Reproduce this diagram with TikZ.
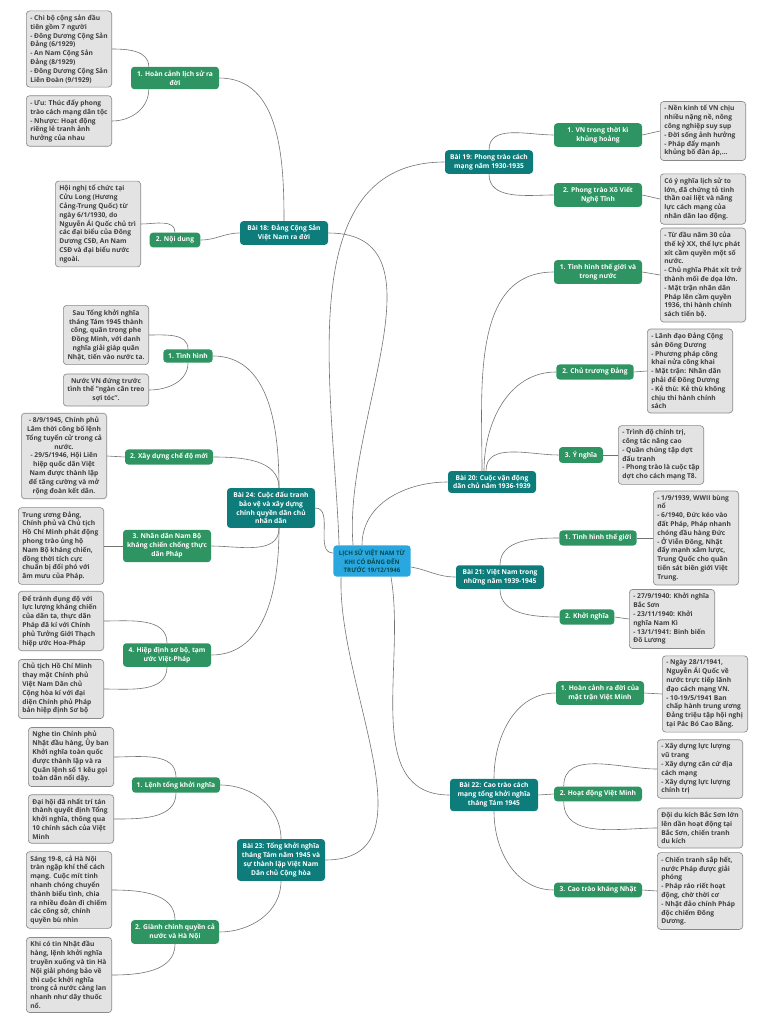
\documentclass[tikz,border=0pt]{standalone}
\usepackage{fontspec}
\setmainfont{Open Sans}
\definecolor{teal1}{HTML}{0E7C7B}
\definecolor{green1}{HTML}{2E9461}
\definecolor{leafc}{HTML}{E3E3E3}
\definecolor{leafb}{HTML}{8A8A8A}
\definecolor{cent}{HTML}{2AA7DE}
\begin{document}
\begin{tikzpicture}[x=0.75pt,y=-0.75pt,
  every node/.style={font=\fontsize{5}{6.6}\selectfont\bfseries, inner sep=3pt, rounded corners=2.5pt},
  mainb/.style={fill=teal1, text=white, align=flush center, text width=#1},
  mainb/.default=60pt,
  subb/.style={fill=green1, text=white, align=flush center, text width=#1},
  subb/.default=60pt,
  leaf/.style={fill=leafc, draw=leafb, line width=0.5pt, text=black!75, align=flush left, text width=58pt},
  leafc/.style={leaf, align=flush center},
  centre/.style={fill=cent, text=teal1!60!black, align=flush center, text width=54pt, inner xsep=2pt, font=\fontsize{4.6}{6.4}\selectfont\bfseries},
  ln/.style={draw=black!55, line width=0.45pt}]
\useasboundingbox (0,0) rectangle (768,1024);
\node[centre] (c) at (372,561) {LỊCH SỬ VIỆT NAM TỪ\\KHI CÓ ĐẢNG ĐẾN\\TRƯỚC 19/12/1946};
% Bai 18
\node[mainb] (b18) at (284,233) {Bài 18: Đảng Cộng Sản Việt Nam ra đời};
\node[subb] (b18a) at (175,78) {1. Hoàn cảnh lịch sử ra đời};
\node[leaf] (b18a1) at (69,49) {- Chi bộ cộng sản đầu tiên gồm 7 người\\- Đông Dương Cộng Sản Đảng (6/1929)\\- An Nam Cộng Sản Đảng (8/1929)\\- Đông Dương Cộng Sản Liên Đoàn (9/1929)};
\node[leaf] (b18a2) at (69,121) {- Ưu: Thúc đẩy phong trào cách mạng dân tộc\\- Nhược: Hoạt động riêng lẻ tranh ảnh hưởng của nhau};
\node[subb=32pt] (b18b) at (175,240) {2. Nội dung};
\node[leaf] (b18b1) at (98,224) {Hội nghị tổ chức tại Cửu Long (Hương Cảng-Trung Quốc) từ ngày 6/1/1930, do Nguyễn Ái Quốc chủ trì các đại biểu của Đông Dương CSĐ, An Nam CSĐ và đại biểu nước ngoài.};
% Bai 19
\node[mainb] (b19) at (489,162) {Bài 19: Phong trào cách mạng năm 1930-1935};
\node[subb] (b19a) at (598,135) {1. VN trong thời kì khủng hoảng};
\node[leaf] (b19a1) at (703,131) {- Nền kinh tế VN chịu nhiều nặng nề, nông công nghiệp suy sụp\\- Đời sống ảnh hưởng\\- Pháp đẩy mạnh khủng bố đàn áp,\dots};
\node[subb] (b19b) at (598,195) {2. Phong trào Xô Viết Nghệ Tĩnh};
\node[leaf] (b19b1) at (703,199) {Có ý nghĩa lịch sử to lớn, đã chứng tỏ tinh thần oai liệt và năng lực cách mạng của nhân dân lao động.};
% Bai 20
\node[mainb] (b20) at (492,482) {Bài 20: Cuộc vận động dân chủ năm 1936-1939};
\node[subb] (b20a) at (598,272) {1. Tình hình thế giới và trong nước};
\node[leaf] (b20a1) at (703,275) {- Từ đầu năm 30 của thế kỷ XX, thế lực phát xít cầm quyền một số nước.\\- Chủ nghĩa Phát xít trở thành mối đe dọa lớn.\\- Mặt trận nhân dân Pháp lên cầm quyền 1936, thi hành chính sách tiến bộ.};
\node[subb=52pt] (b20b) at (595,372) {2. Chủ trương Đảng};
\node[leaf] (b20b1) at (690,371) {- Lãnh đạo Đảng Cộng sản Đông Dương\\- Phương pháp công khai nửa công khai\\- Mặt trận: Nhân dân phải để Đông Dương\\- Kẻ thù: Kẻ thù không chịu thi hành chính sách};
\node[subb=27pt] (b20c) at (581,455) {3. Ý nghĩa};
\node[leaf] (b20c1) at (661,455) {- Trình độ chính trị, công tác nâng cao\\- Quần chúng tập dợt đấu tranh\\- Phong trào là cuộc tập dợt cho cách mạng T8.};
% Bai 21
\node[mainb] (b21) at (500,577) {Bài 21: Việt Nam trong những năm 1939-1945};
\node[subb=52pt] (b21a) at (598,538) {1. Tình hình thế giới};
\node[leaf] (b21a1) at (696,538) {- 1/9/1939, WWII bùng nổ\\- 6/1940, Đức kéo vào đất Pháp, Pháp nhanh chóng đầu hàng Đức\\- Ở Viễn Đông, Nhật đẩy mạnh xâm lược, Trung Quốc cho quân tiến sát biên giới Việt Trung.};
\node[subb=35pt] (b21b) at (587,617) {2. Khởi nghĩa};
\node[leaf] (b21b1) at (672,619) {- 27/9/1940: Khởi nghĩa Bắc Sơn\\- 23/11/1940: Khởi nghĩa Nam Kì\\- 13/1/1941: Binh biến Đô Lương};
% Bai 22
\node[mainb] (b22) at (494,795) {Bài 22: Cao trào cách mạng tổng khởi nghĩa tháng Tám 1945};
\node[subb] (b22a) at (600,693) {1. Hoàn cảnh ra đời của mặt trận Việt Minh};
\node[leaf] (b22a1) at (705,694) {- Ngày 28/1/1941, Nguyễn Ái Quốc về nước trực tiếp lãnh đạo cách mạng VN.\\- 10-19/5/1941 Ban chấp hành trung ương Đảng triệu tập hội nghị tại Pác Bó Cao Bằng.};
\node[subb] (b22b) at (598,794) {2. Hoạt động Việt Minh};
\node[leaf] (b22b1) at (700,769) {- Xây dựng lực lượng vũ trang\\- Xây dựng căn cứ địa cách mạng\\- Xây dựng lực lượng chính trị};
\node[leaf] (b22b2) at (700,828) {Đội du kích Bắc Sơn lớn lên dần hoạt động tại Bắc Sơn, chiến tranh du kích};
\node[subb] (b22c) at (598,890) {3. Cao trào kháng Nhật};
\node[leaf] (b22c1) at (700,891) {- Chiến tranh sắp hết, nước Pháp được giải phóng\\- Pháp ráo riết hoạt động, chờ thời cơ\\- Nhật đảo chính Pháp độc chiếm Đông Dương.};
% Bai 24
\node[mainb] (b24) at (271,508) {Bài 24: Cuộc đấu tranh bảo vệ và xây dựng chính quyền dân chủ nhân dân};
\node[subb=31pt] (b24a) at (188,356) {1. Tình hình};
\node[leafc] (b24a1) at (106,335) {Sau Tổng khởi nghĩa tháng Tám 1945 thành công, quân trong phe Đồng Minh, với danh nghĩa giải giáp quân Nhật, tiến vào nước ta.};
\node[leafc] (b24a2) at (106,390) {Nước VN đứng trước tình thế "ngàn cân treo sợi tóc".};
\node[subb] (b24b) at (169,457) {2. Xây dựng chế độ mới};
\node[leafc] (b24b1) at (64,456) {- 8/9/1945, Chính phủ Lâm thời công bố lệnh Tổng tuyển cử trong cả nước.\\- 29/5/1946, Hội Liên hiệp quốc dân Việt Nam được thành lập để tăng cường và mở rộng đoàn kết dân.};
\node[subb] (b24c) at (167,546) {3. Nhân dân Nam Bộ kháng chiến chống thực dân Pháp};
\node[leaf] (b24c1) at (61,546) {Trung ương Đảng, Chính phủ và Chủ tịch Hồ Chí Minh phát động phong trào ủng hộ Nam Bộ kháng chiến, đồng thời tích cực chuẩn bị đối phó với âm mưu của Pháp.};
\node[subb] (b24d) at (167,655) {4. Hiệp định sơ bộ, tạm ước Việt-Pháp};
\node[leaf] (b24d1) at (61,621) {Để tránh đụng độ với lực lượng kháng chiến của dân ta, thực dân Pháp đã kí với Chính phủ Tưởng Giới Thạch hiệp ước Hoa-Pháp};
\node[leaf] (b24d2) at (61,689) {Chủ tịch Hồ Chí Minh thay mặt Chính phủ Việt Nam Dân chủ Cộng hòa kí với đại diện Chính phủ Pháp bản hiệp định Sơ bộ};
% Bai 23
\node[mainb] (b23) at (281,860) {Bài 23: Tổng khởi nghĩa tháng Tám năm 1945 và sự thành lập Việt Nam Dân chủ Cộng hòa};
\node[subb] (b23a) at (176,785) {1. Lệnh tổng khởi nghĩa};
\node[leaf] (b23a1) at (71,757) {Nghe tin Chính phủ Nhật đầu hàng, Ủy ban Khởi nghĩa toàn quốc được thành lập và ra Quân lệnh số 1 kêu gọi toàn dân nổi dậy.};
\node[leaf] (b23a2) at (71,819) {Đại hội đã nhất trí tán thành quyết định Tổng khởi nghĩa, thông qua 10 chính sách của Việt Minh};
\node[subb] (b23b) at (175,932) {2. Giành chính quyền cả nước và Hà Nội};
\node[leaf] (b23b1) at (69,890) {Sáng 19-8, cả Hà Nội tràn ngập khí thế cách mạng. Cuộc mít tinh nhanh chóng chuyển thành biểu tình, chia ra nhiều đoàn đi chiếm các công sở, chính quyền bù nhìn};
\node[leaf] (b23b2) at (69,975) {Khi có tin Nhật đầu hàng, lệnh khởi nghĩa truyền xuống và tin Hà Nội giải phóng bảo về thì cuộc khởi nghĩa trong cả nước càng lan nhanh như dây thuốc nổ.};
% connectors
\draw[ln] (c.north west) ++(20,0) to[out=95,in=0] (b18.east);
\draw[ln] (b18.north) to[out=90,in=0] (b18a.east);
\draw[ln] (b18.west) to[out=180,in=0] (b18b.east);
\draw[ln] (b18a.north west) ++(18,0) to[out=90,in=0] (b18a1.east);
\draw[ln] (b18a.south west) ++(18,0) to[out=-90,in=0] (b18a2.east);
\draw[ln] (b18b.north) to[out=90,in=0] (b18b1.east);
\draw[ln] (c.north west) ++(6,0) to[out=92,in=180] (b19.west);
\draw[ln] (b19.south) to[out=-90,in=180] (b19b.west);
\draw[ln] (b19.north) to[out=90,in=180] (b19a.west);
\draw[ln] (b19a.east) -- (b19a1.west);
\draw[ln] (b19b.east) -- (b19b1.west);
\draw[ln] (c.north) ++(-10,0) to[out=90,in=180] (b20.west);
\draw[ln] (b20.north) ++(-10,0) to[out=90,in=180] (b20a.west);
\draw[ln] (b20.north) ++(-8,0) to[out=90,in=180] (b20b.west);
\draw[ln] (b20.north) ++(-6,0) to[out=90,in=180] (b20c.west);
\draw[ln] (b20a.east) -- (b20a1.west);
\draw[ln] (b20b.east) -- (b20b1.west);
\draw[ln] (b20c.east) -- (b20c1.west);
\draw[ln] (c.east) ++(0,6) to[out=-10,in=180] (b21.west);
\draw[ln] (b21.north) to[out=90,in=180] (b21a.west);
\draw[ln] (b21.south) to[out=-90,in=180] (b21b.west);
\draw[ln] (b21a.east) -- (b21a1.west);
\draw[ln] (b21b.east) -- (b21b1.west);
\draw[ln] (c.south east) ++(-20,0) to[out=-80,in=180] (b22.west);
\draw[ln] (b22.north) to[out=90,in=180] (b22a.west);
\draw[ln] (b22.east) -- (b22b.west);
\draw[ln] (b22.south) to[out=-90,in=180] (b22c.west);
\draw[ln] (b22a.east) -- (b22a1.west);
\draw[ln] (b22b.north west) ++(10,0) to[out=90,in=180] (b22b1.west);
\draw[ln] (b22b.south west) ++(10,0) to[out=-90,in=180] (b22b2.west);
\draw[ln] (b22c.east) -- (b22c1.west);
\draw[ln] (c.west) ++(0,-8) to[out=180,in=0] (b24.east);
\draw[ln] (b24.north) ++(8,0) to[out=90,in=0] (b24a.east);
\draw[ln] (b24.north) ++(8,0) to[out=90,in=0] (b24b.east);
\draw[ln] (b24.south) ++(8,0) to[out=-90,in=0] (b24c.east);
\draw[ln] (b24.south) ++(8,0) to[out=-90,in=0] (b24d.east);
\draw[ln] (b24a.north) to[out=90,in=0] (b24a1.east);
\draw[ln] (b24a.south) to[out=-90,in=0] (b24a2.east);
\draw[ln] (b24b.west) -- (b24b1.east);
\draw[ln] (b24c.west) -- (b24c1.east);
\draw[ln] (b24d.north) to[out=90,in=0] (b24d1.east);
\draw[ln] (b24d.south) to[out=-90,in=0] (b24d2.east);
\draw[ln] (c.south west) ++(8,0) to[out=-92,in=0] (b23.east);
\draw[ln] (b23.north) to[out=90,in=0] (b23a.east);
\draw[ln] (b23.south) to[out=-90,in=0] (b23b.east);
\draw[ln] (b23a.north) to[out=90,in=0] (b23a1.east);
\draw[ln] (b23a.south) to[out=-90,in=0] (b23a2.east);
\draw[ln] (b23b.north) to[out=90,in=0] (b23b1.east);
\draw[ln] (b23b.south) to[out=-90,in=0] (b23b2.east);
\end{tikzpicture}
\end{document}
